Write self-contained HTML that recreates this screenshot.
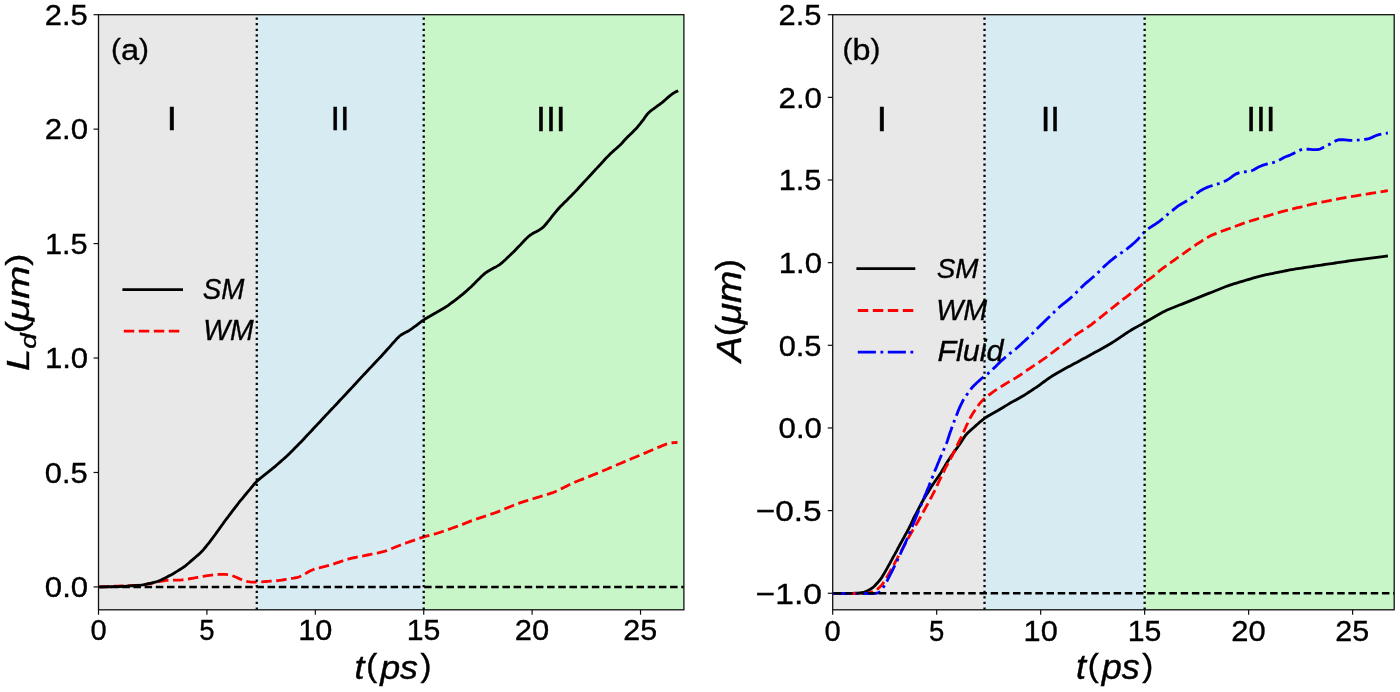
<!DOCTYPE html>
<html><head><meta charset="utf-8"><title>Figure</title>
<style>html,body{margin:0;padding:0;background:#fff;width:1400px;height:692px;overflow:hidden}svg{display:block;filter:blur(0.4px)}text{font-family:"Liberation Sans",sans-serif}</style>
</head><body>
<svg width="1400" height="692" viewBox="0 0 1400 692">
<rect width="1400" height="692" fill="#fff"/>
<rect x="98.5" y="14.7" width="158.27" height="595.10" fill="#e8e8e8"/>
<rect x="256.77" y="14.7" width="166.95" height="595.10" fill="#d6ebf2"/>
<rect x="423.72" y="14.7" width="260.18" height="595.10" fill="#c8f6c8"/>
<polyline points="98.5,586.90 100.9,586.80 102.6,586.73 104.5,586.66 106.5,586.58 108.5,586.49 110.5,586.41 112.5,586.33 114.5,586.25 116.5,586.17 118.5,586.09 120.5,586.01 122.5,585.92 124.5,585.84 126.5,585.75 128.5,585.66 130.5,585.58 132.5,585.49 134.5,585.41 136.5,585.32 138.5,585.23 140.5,585.11 142.4,584.95 144.4,584.71 146.4,584.38 148.3,583.98 150.3,583.55 152.3,583.12 154.2,582.69 156.2,582.27 158.1,581.87 160.1,581.48 162.0,581.09 164.0,580.74 166.0,580.45 168.0,580.25 169.9,580.15 171.9,580.11 173.9,580.10 175.9,580.10 177.9,580.08 179.9,580.04 181.9,579.92 183.9,579.72 185.9,579.44 187.9,579.11 189.8,578.76 191.8,578.40 193.8,578.05 195.7,577.69 197.7,577.34 199.7,576.98 201.6,576.63 203.6,576.28 205.6,575.93 207.5,575.59 209.5,575.29 211.5,575.04 213.5,574.84 215.5,574.67 217.5,574.53 219.5,574.41 221.5,574.33 223.5,574.32 225.4,574.41 227.4,574.62 229.4,574.93 231.3,575.40 233.2,576.02 235.0,576.77 236.8,577.58 238.7,578.39 240.5,579.19 242.3,579.95 244.2,580.65 246.1,581.24 248.0,581.66 250.0,581.92 252.0,582.08 254.0,582.18 255.9,582.21 257.9,582.16 259.9,582.03 261.9,581.85 263.9,581.65 265.9,581.47 267.9,581.32 269.9,581.19 271.9,581.06 273.9,580.93 275.9,580.76 277.9,580.57 279.8,580.34 281.8,580.07 283.8,579.76 285.8,579.44 287.7,579.11 289.7,578.78 291.7,578.45 293.7,578.11 295.6,577.74 297.6,577.31 299.4,576.73 301.3,575.97 303.0,575.07 304.8,574.09 306.5,573.08 308.2,572.07 309.9,571.10 311.7,570.21 313.5,569.46 315.4,568.83 317.3,568.29 319.3,567.79 321.2,567.30 323.2,566.81 325.1,566.32 327.0,565.82 329.0,565.31 330.9,564.77 332.8,564.20 334.7,563.58 336.6,562.95 338.5,562.30 340.4,561.65 342.3,561.00 344.2,560.36 346.1,559.74 348.0,559.15 349.9,558.63 351.9,558.17 353.8,557.75 355.8,557.36 357.7,556.96 359.7,556.57 361.6,556.18 363.6,555.79 365.6,555.40 367.5,555.01 369.5,554.62 371.5,554.22 373.4,553.83 375.4,553.44 377.3,553.04 379.3,552.63 381.2,552.20 383.2,551.71 385.1,551.13 387.0,550.46 388.8,549.75 390.7,549.01 392.5,548.26 394.4,547.51 396.2,546.76 398.1,546.02 400.0,545.28 401.8,544.55 403.7,543.85 405.6,543.16 407.5,542.50 409.3,541.85 411.2,541.19 413.1,540.54 415.0,539.89 416.9,539.24 418.8,538.59 420.7,537.95 422.6,537.33 424.5,536.74 426.4,536.18 428.4,535.65 430.3,535.12 432.2,534.60 434.1,534.07 436.1,533.54 438.0,532.99 439.9,532.41 441.8,531.78 443.7,531.13 445.6,530.47 447.5,529.80 449.4,529.13 451.2,528.46 453.1,527.79 455.0,527.11 456.9,526.43 458.8,525.74 460.6,525.03 462.5,524.31 464.4,523.58 466.2,522.85 468.1,522.12 469.9,521.39 471.8,520.68 473.7,519.99 475.6,519.33 477.5,518.69 479.4,518.05 481.3,517.42 483.2,516.79 485.1,516.16 487.0,515.53 488.9,514.90 490.8,514.27 492.6,513.64 494.5,512.99 496.4,512.32 498.3,511.61 500.1,510.86 502.0,510.10 503.8,509.33 505.7,508.55 507.5,507.78 509.4,507.00 511.2,506.23 513.1,505.46 514.9,504.70 516.8,503.97 518.6,503.29 520.5,502.65 522.4,502.04 524.4,501.44 526.3,500.85 528.2,500.26 530.1,499.67 532.0,499.08 533.9,498.49 535.8,497.90 537.7,497.31 539.6,496.73 541.6,496.14 543.5,495.56 545.4,494.98 547.3,494.40 549.2,493.81 551.1,493.20 553.0,492.55 554.9,491.82 556.7,491.02 558.5,490.16 560.3,489.28 562.1,488.39 563.9,487.50 565.6,486.61 567.4,485.72 569.2,484.83 571.0,483.96 572.8,483.12 574.7,482.31 576.5,481.54 578.4,480.79 580.2,480.05 582.1,479.31 583.9,478.57 585.8,477.83 587.7,477.09 589.5,476.35 591.4,475.61 593.2,474.87 595.1,474.13 596.9,473.37 598.8,472.61 600.6,471.83 602.5,471.05 604.3,470.26 606.2,469.48 608.0,468.69 609.8,467.90 611.7,467.12 613.5,466.33 615.3,465.55 617.2,464.77 619.0,463.99 620.9,463.21 622.7,462.43 624.6,461.66 626.4,460.88 628.2,460.11 630.1,459.33 631.9,458.56 633.8,457.78 635.6,457.01 637.5,456.23 639.3,455.45 641.1,454.67 643.0,453.89 644.8,453.11 646.7,452.33 648.5,451.54 650.4,450.76 652.2,449.98 654.0,449.20 655.9,448.41 657.7,447.63 659.6,446.85 661.4,446.08 663.2,445.31 665.1,444.56 667.0,443.90 668.9,443.36 670.8,443.00 672.7,442.77 674.5,442.61 675.9,442.51 677.5,442.40" fill="none" stroke="#ff0000" stroke-width="2.83" stroke-linejoin="round" stroke-dasharray="10.47,4.53"/><polyline points="98.5,586.90 100.9,586.87 102.6,586.84 104.5,586.82 106.5,586.79 108.5,586.76 110.5,586.73 112.5,586.70 114.5,586.67 116.5,586.64 118.5,586.59 120.5,586.51 122.5,586.41 124.5,586.29 126.5,586.16 128.5,586.02 130.5,585.89 132.5,585.75 134.5,585.61 136.5,585.47 138.5,585.32 140.4,585.12 142.4,584.86 144.4,584.53 146.3,584.14 148.3,583.72 150.3,583.30 152.2,582.87 154.1,582.41 156.1,581.88 157.9,581.26 159.8,580.51 161.6,579.67 163.4,578.80 165.2,577.91 167.0,577.00 168.7,576.09 170.5,575.15 172.3,574.17 174.0,573.16 175.7,572.14 177.4,571.11 179.1,570.08 180.8,569.02 182.5,567.93 184.1,566.77 185.7,565.55 187.2,564.28 188.8,562.98 190.3,561.68 191.8,560.38 193.3,559.08 194.8,557.78 196.3,556.47 197.9,555.17 199.4,553.84 200.8,552.48 202.2,551.06 203.5,549.57 204.8,548.03 206.1,546.48 207.3,544.92 208.6,543.35 209.8,541.79 211.0,540.22 212.2,538.63 213.4,537.02 214.6,535.41 215.8,533.78 216.9,532.15 218.1,530.53 219.3,528.90 220.4,527.27 221.6,525.64 222.8,524.02 223.9,522.40 225.1,520.78 226.3,519.17 227.5,517.58 228.7,515.98 229.9,514.39 231.1,512.79 232.3,511.20 233.5,509.61 234.8,508.02 236.0,506.42 237.2,504.83 238.4,503.25 239.6,501.68 240.9,500.12 242.2,498.58 243.4,497.04 244.7,495.50 246.0,493.97 247.3,492.44 248.6,490.90 249.9,489.37 251.1,487.84 252.4,486.30 253.7,484.78 255.0,483.27 256.4,481.80 257.8,480.40 259.3,479.07 260.8,477.80 262.4,476.56 263.9,475.33 265.5,474.09 267.1,472.86 268.7,471.63 270.2,470.39 271.8,469.14 273.3,467.87 274.9,466.58 276.4,465.27 277.9,463.96 279.4,462.65 280.9,461.34 282.4,460.02 283.9,458.70 285.4,457.37 286.9,456.02 288.3,454.63 289.8,453.23 291.2,451.82 292.6,450.41 294.0,449.00 295.4,447.58 296.8,446.17 298.2,444.75 299.6,443.32 301.0,441.89 302.4,440.44 303.8,438.98 305.1,437.52 306.5,436.06 307.9,434.60 309.2,433.13 310.6,431.67 312.0,430.21 313.3,428.75 314.7,427.28 316.1,425.82 317.4,424.36 318.8,422.90 320.2,421.44 321.5,419.98 322.9,418.52 324.3,417.06 325.6,415.60 327.0,414.14 328.4,412.68 329.7,411.23 331.1,409.77 332.5,408.31 333.9,406.86 335.2,405.40 336.6,403.95 338.0,402.49 339.3,401.03 340.7,399.58 342.1,398.12 343.4,396.66 344.8,395.21 346.2,393.75 347.5,392.28 348.9,390.82 350.3,389.35 351.6,387.88 353.0,386.41 354.3,384.94 355.7,383.47 357.0,382.00 358.4,380.53 359.8,379.06 361.1,377.59 362.5,376.13 363.8,374.67 365.2,373.21 366.6,371.75 368.0,370.30 369.3,368.84 370.7,367.38 372.1,365.93 373.4,364.47 374.8,363.01 376.2,361.56 377.6,360.10 378.9,358.64 380.3,357.19 381.7,355.72 383.0,354.26 384.4,352.78 385.7,351.29 387.0,349.80 388.4,348.30 389.7,346.81 391.0,345.31 392.3,343.82 393.7,342.33 395.0,340.83 396.3,339.35 397.7,337.89 399.1,336.52 400.6,335.28 402.3,334.20 404.0,333.24 405.8,332.33 407.5,331.39 409.3,330.39 410.9,329.30 412.6,328.15 414.2,326.96 415.8,325.77 417.4,324.57 419.0,323.37 420.6,322.17 422.2,320.99 423.8,319.84 425.5,318.74 427.2,317.70 428.9,316.69 430.7,315.71 432.4,314.72 434.1,313.74 435.9,312.76 437.6,311.78 439.4,310.80 441.1,309.82 442.8,308.82 444.6,307.78 446.2,306.70 447.9,305.56 449.5,304.38 451.1,303.18 452.7,301.99 454.3,300.79 455.9,299.58 457.5,298.38 459.1,297.17 460.6,295.93 462.2,294.67 463.7,293.38 465.2,292.07 466.7,290.75 468.2,289.42 469.7,288.07 471.2,286.70 472.6,285.30 474.0,283.89 475.4,282.48 476.8,281.07 478.2,279.65 479.7,278.24 481.1,276.83 482.5,275.44 484.0,274.11 485.5,272.88 487.2,271.76 488.9,270.74 490.6,269.76 492.4,268.80 494.1,267.85 495.9,266.88 497.6,265.89 499.3,264.83 500.9,263.66 502.4,262.39 503.9,261.05 505.4,259.68 506.8,258.30 508.2,256.92 509.7,255.54 511.1,254.16 512.6,252.77 514.0,251.38 515.4,249.97 516.8,248.54 518.2,247.09 519.6,245.64 521.0,244.18 522.3,242.72 523.7,241.27 525.1,239.81 526.5,238.38 527.9,237.00 529.4,235.73 531.0,234.59 532.7,233.56 534.5,232.59 536.2,231.64 538.0,230.68 539.7,229.69 541.3,228.61 542.9,227.40 544.3,226.02 545.6,224.53 546.9,222.99 548.1,221.43 549.4,219.87 550.6,218.30 551.8,216.74 553.1,215.17 554.3,213.61 555.6,212.05 556.9,210.51 558.2,209.01 559.5,207.54 560.9,206.10 562.3,204.68 563.7,203.26 565.1,201.85 566.6,200.44 568.0,199.02 569.4,197.61 570.8,196.19 572.2,194.76 573.6,193.32 575.0,191.87 576.3,190.41 577.7,188.94 579.0,187.47 580.4,186.00 581.8,184.53 583.1,183.06 584.5,181.60 585.8,180.13 587.2,178.66 588.5,177.19 589.9,175.72 591.3,174.25 592.6,172.78 594.0,171.31 595.3,169.84 596.7,168.37 598.0,166.91 599.4,165.44 600.8,163.97 602.1,162.50 603.5,161.03 604.8,159.56 606.2,158.10 607.6,156.64 609.0,155.21 610.4,153.81 611.8,152.45 613.3,151.11 614.8,149.78 616.3,148.45 617.8,147.12 619.3,145.78 620.7,144.39 622.1,142.95 623.4,141.46 624.7,139.96 626.1,138.49 627.5,137.07 628.9,135.67 630.4,134.29 631.8,132.90 633.2,131.51 634.6,130.10 636.0,128.66 637.4,127.17 638.6,125.64 639.9,124.08 641.1,122.52 642.4,120.95 643.6,119.35 644.7,117.72 645.8,116.09 647.0,114.52 648.4,113.06 649.8,111.73 651.4,110.48 652.9,109.27 654.5,108.07 656.2,106.90 657.8,105.73 659.4,104.56 661.0,103.37 662.6,102.13 664.1,100.84 665.6,99.51 667.1,98.17 668.6,96.85 670.1,95.58 671.7,94.38 673.3,93.29 674.9,92.35 676.3,91.61 678.2,90.70" fill="none" stroke="#000" stroke-width="2.83" stroke-linejoin="round" />
<line x1="256.77" y1="14.7" x2="256.77" y2="609.8" stroke="#000" stroke-width="2.25" stroke-dasharray="2.25,3.37" stroke-dashoffset="2.93"/>
<line x1="423.72" y1="14.7" x2="423.72" y2="609.8" stroke="#000" stroke-width="2.25" stroke-dasharray="2.25,3.37" stroke-dashoffset="2.93"/>
<line x1="98.5" y1="586.91" x2="683.9" y2="586.91" stroke="#000" stroke-width="2.5" stroke-dasharray="7.5,3.68" stroke-dashoffset="9.78"/>
<rect x="98.5" y="14.7" width="585.40" height="595.10" fill="none" stroke="#111" stroke-width="1.3"/>
<line x1="98.50" y1="609.8" x2="98.50" y2="614.75" stroke="#111" stroke-width="1.2"/>
<line x1="206.91" y1="609.8" x2="206.91" y2="614.75" stroke="#111" stroke-width="1.2"/>
<line x1="315.31" y1="609.8" x2="315.31" y2="614.75" stroke="#111" stroke-width="1.2"/>
<line x1="423.72" y1="609.8" x2="423.72" y2="614.75" stroke="#111" stroke-width="1.2"/>
<line x1="532.13" y1="609.8" x2="532.13" y2="614.75" stroke="#111" stroke-width="1.2"/>
<line x1="640.54" y1="609.8" x2="640.54" y2="614.75" stroke="#111" stroke-width="1.2"/>
<line x1="93.55" y1="586.91" x2="98.5" y2="586.91" stroke="#111" stroke-width="1.2"/>
<line x1="93.55" y1="472.47" x2="98.5" y2="472.47" stroke="#111" stroke-width="1.2"/>
<line x1="93.55" y1="358.03" x2="98.5" y2="358.03" stroke="#111" stroke-width="1.2"/>
<line x1="93.55" y1="243.58" x2="98.5" y2="243.58" stroke="#111" stroke-width="1.2"/>
<line x1="93.55" y1="129.14" x2="98.5" y2="129.14" stroke="#111" stroke-width="1.2"/>
<line x1="93.55" y1="14.70" x2="98.5" y2="14.70" stroke="#111" stroke-width="1.2"/>
<line x1="122.4" y1="289.6" x2="183" y2="289.6" stroke="#000" stroke-width="2.83"/><line x1="123.8" y1="331.1" x2="181.6" y2="331.1" stroke="#ff0000" stroke-width="2.83" stroke-dasharray="10.47,4.53"/>
<rect x="832.7" y="14.7" width="151.81" height="595.10" fill="#e8e8e8"/>
<rect x="984.51" y="14.7" width="160.13" height="595.10" fill="#d6ebf2"/>
<rect x="1144.64" y="14.7" width="249.56" height="595.10" fill="#c8f6c8"/>
<polyline points="832.7,593.40 835.1,593.41 836.8,593.42 838.7,593.43 840.7,593.45 842.7,593.46 844.7,593.47 846.7,593.47 848.7,593.45 850.7,593.40 852.7,593.33 854.7,593.22 856.7,593.11 858.7,592.98 860.7,592.80 862.6,592.50 864.5,592.01 866.3,591.32 868.1,590.48 869.9,589.53 871.5,588.48 873.1,587.27 874.6,585.94 875.9,584.51 877.3,583.05 878.6,581.56 879.9,580.03 881.1,578.45 882.2,576.79 883.2,575.09 884.2,573.35 885.2,571.61 886.2,569.86 887.2,568.11 888.1,566.37 889.1,564.62 890.1,562.87 891.0,561.11 892.0,559.36 892.9,557.60 893.9,555.85 894.9,554.09 895.8,552.33 896.8,550.58 897.7,548.82 898.7,547.06 899.6,545.31 900.6,543.55 901.6,541.80 902.5,540.04 903.5,538.29 904.4,536.53 905.4,534.78 906.4,533.03 907.3,531.27 908.3,529.51 909.2,527.75 910.1,525.97 911.0,524.16 911.8,522.34 912.6,520.52 913.4,518.71 914.3,516.92 915.2,515.14 916.2,513.37 917.1,511.59 918.0,509.82 918.9,508.05 919.9,506.28 920.8,504.50 921.7,502.74 922.7,500.98 923.7,499.25 924.7,497.53 925.8,495.82 926.8,494.12 927.9,492.42 928.9,490.72 930.0,489.03 931.0,487.33 932.1,485.65 933.2,483.98 934.3,482.33 935.5,480.69 936.6,479.05 937.8,477.40 938.9,475.75 940.0,474.09 941.1,472.41 942.1,470.70 943.1,468.98 944.2,467.26 945.2,465.54 946.2,463.81 947.2,462.10 948.3,460.40 949.4,458.72 950.5,457.07 951.6,455.43 952.8,453.80 953.9,452.17 955.1,450.54 956.3,448.92 957.5,447.31 958.6,445.71 959.8,444.09 960.9,442.44 962.0,440.74 963.0,439.03 964.1,437.36 965.2,435.77 966.5,434.26 967.9,432.82 969.3,431.44 970.8,430.10 972.3,428.77 973.8,427.46 975.3,426.13 976.8,424.81 978.3,423.49 979.8,422.18 981.4,420.89 982.9,419.64 984.5,418.43 986.1,417.29 987.8,416.21 989.5,415.18 991.3,414.19 993.0,413.23 994.8,412.28 996.5,411.31 998.3,410.30 1000.0,409.28 1001.7,408.24 1003.4,407.19 1005.1,406.15 1006.8,405.11 1008.5,404.09 1010.2,403.08 1012.0,402.10 1013.7,401.12 1015.5,400.15 1017.2,399.17 1019.0,398.20 1020.7,397.22 1022.4,396.22 1024.2,395.19 1025.9,394.13 1027.5,393.05 1029.2,391.96 1030.9,390.88 1032.6,389.79 1034.2,388.70 1035.9,387.59 1037.6,386.47 1039.2,385.31 1040.8,384.13 1042.4,382.94 1044.0,381.75 1045.6,380.56 1047.2,379.38 1048.9,378.23 1050.5,377.12 1052.2,376.05 1053.9,375.00 1055.6,373.96 1057.3,372.93 1059.1,371.91 1060.8,370.92 1062.6,369.95 1064.3,369.00 1066.1,368.05 1067.8,367.10 1069.6,366.16 1071.4,365.22 1073.1,364.27 1074.9,363.33 1076.7,362.39 1078.4,361.44 1080.2,360.50 1081.9,359.55 1083.7,358.60 1085.5,357.64 1087.2,356.69 1089.0,355.72 1090.7,354.76 1092.5,353.80 1094.2,352.83 1096.0,351.87 1097.7,350.90 1099.5,349.94 1101.2,348.98 1103.0,348.01 1104.7,347.05 1106.5,346.08 1108.2,345.09 1109.9,344.07 1111.6,343.01 1113.3,341.92 1115.0,340.81 1116.6,339.70 1118.3,338.58 1120.0,337.46 1121.6,336.35 1123.3,335.23 1124.9,334.11 1126.6,333.00 1128.3,331.91 1130.0,330.85 1131.7,329.83 1133.4,328.83 1135.2,327.84 1136.9,326.86 1138.6,325.88 1140.4,324.90 1142.1,323.92 1143.9,322.94 1145.6,321.95 1147.3,320.97 1149.1,319.98 1150.8,318.99 1152.6,318.00 1154.3,317.01 1156.0,316.02 1157.8,315.04 1159.5,314.05 1161.3,313.07 1163.0,312.10 1164.8,311.18 1166.6,310.33 1168.4,309.53 1170.3,308.77 1172.1,308.02 1174.0,307.28 1175.8,306.53 1177.7,305.79 1179.5,305.05 1181.4,304.31 1183.3,303.57 1185.1,302.83 1187.0,302.08 1188.8,301.34 1190.7,300.60 1192.5,299.86 1194.4,299.12 1196.3,298.37 1198.1,297.63 1200.0,296.89 1201.8,296.15 1203.7,295.41 1205.5,294.67 1207.4,293.92 1209.3,293.18 1211.1,292.44 1213.0,291.70 1214.8,290.96 1216.7,290.22 1218.6,289.47 1220.4,288.73 1222.3,287.99 1224.1,287.25 1226.0,286.52 1227.9,285.82 1229.7,285.16 1231.6,284.54 1233.6,283.95 1235.5,283.37 1237.4,282.80 1239.3,282.22 1241.2,281.65 1243.1,281.08 1245.0,280.51 1247.0,279.93 1248.9,279.36 1250.8,278.79 1252.7,278.22 1254.6,277.65 1256.5,277.08 1258.5,276.53 1260.4,276.01 1262.3,275.54 1264.3,275.11 1266.3,274.71 1268.2,274.31 1270.2,273.91 1272.1,273.52 1274.1,273.12 1276.1,272.73 1278.0,272.34 1280.0,271.94 1281.9,271.55 1283.9,271.15 1285.9,270.76 1287.8,270.37 1289.8,269.98 1291.7,269.61 1293.7,269.27 1295.7,268.95 1297.7,268.64 1299.6,268.34 1301.6,268.04 1303.6,267.74 1305.6,267.44 1307.6,267.14 1309.5,266.84 1311.5,266.55 1313.5,266.25 1315.5,265.95 1317.4,265.65 1319.4,265.35 1321.4,265.05 1323.4,264.76 1325.4,264.46 1327.3,264.17 1329.3,263.87 1331.3,263.58 1333.3,263.29 1335.2,262.99 1337.2,262.70 1339.2,262.41 1341.2,262.11 1343.2,261.82 1345.1,261.53 1347.1,261.23 1349.1,260.94 1351.1,260.65 1353.0,260.36 1355.0,260.08 1357.0,259.81 1359.0,259.55 1361.0,259.30 1363.0,259.06 1364.9,258.81 1366.9,258.57 1368.9,258.33 1370.9,258.08 1372.9,257.84 1374.9,257.60 1376.9,257.35 1378.8,257.11 1380.8,256.87 1382.8,256.63 1384.6,256.41 1386.1,256.22 1387.9,256.00" fill="none" stroke="#000" stroke-width="2.83" stroke-linejoin="round" /><polyline points="832.7,593.40 835.1,593.41 836.8,593.41 838.7,593.42 840.7,593.42 842.7,593.43 844.7,593.43 846.7,593.44 848.7,593.45 850.7,593.45 852.7,593.46 854.7,593.46 856.7,593.47 858.7,593.47 860.7,593.48 862.7,593.46 864.7,593.40 866.7,593.23 868.6,592.92 870.5,592.46 872.4,591.87 874.3,591.15 876.0,590.23 877.5,589.10 879.0,587.80 880.4,586.39 881.8,584.92 883.0,583.36 884.1,581.73 885.2,580.04 886.2,578.32 887.2,576.59 888.2,574.86 889.2,573.12 890.2,571.38 891.1,569.63 892.1,567.87 893.0,566.12 894.0,564.36 895.0,562.61 895.9,560.85 896.9,559.09 897.8,557.34 898.8,555.58 899.7,553.82 900.7,552.07 901.7,550.31 902.6,548.55 903.6,546.80 904.5,545.04 905.5,543.28 906.4,541.53 907.4,539.77 908.4,538.02 909.3,536.26 910.3,534.52 911.3,532.78 912.3,531.05 913.3,529.33 914.3,527.61 915.4,525.89 916.4,524.18 917.4,522.46 918.4,520.73 919.4,519.00 920.4,517.26 921.4,515.51 922.3,513.76 923.3,512.00 924.2,510.25 925.2,508.49 926.1,506.73 927.1,504.97 928.1,503.22 929.0,501.46 930.0,499.70 930.9,497.94 931.9,496.18 932.8,494.41 933.7,492.63 934.6,490.83 935.4,489.03 936.3,487.22 937.1,485.41 938.0,483.59 938.8,481.78 939.7,479.97 940.5,478.17 941.4,476.37 942.3,474.57 943.2,472.77 944.1,470.98 944.9,469.19 945.8,467.40 946.8,465.63 947.7,463.87 948.7,462.11 949.6,460.36 950.6,458.61 951.6,456.85 952.5,455.08 953.4,453.30 954.3,451.50 955.1,449.68 955.9,447.87 956.8,446.06 957.7,444.27 958.6,442.49 959.5,440.72 960.4,438.94 961.3,437.14 962.1,435.33 962.9,433.50 963.8,431.67 964.6,429.85 965.4,428.02 966.2,426.20 967.1,424.38 967.9,422.57 968.8,420.77 969.6,418.97 970.6,417.21 971.6,415.48 972.6,413.79 973.7,412.13 974.8,410.48 976.0,408.82 977.1,407.17 978.2,405.53 979.4,403.93 980.7,402.38 982.0,400.89 983.4,399.48 984.9,398.17 986.5,396.92 988.0,395.71 989.6,394.50 991.2,393.30 992.8,392.11 994.5,390.95 996.1,389.82 997.8,388.73 999.5,387.65 1001.2,386.58 1002.9,385.52 1004.6,384.47 1006.3,383.42 1008.0,382.39 1009.7,381.37 1011.4,380.37 1013.2,379.38 1014.9,378.39 1016.6,377.38 1018.3,376.32 1020.0,375.22 1021.6,374.08 1023.2,372.91 1024.9,371.75 1026.5,370.59 1028.1,369.46 1029.8,368.34 1031.5,367.24 1033.1,366.14 1034.8,365.04 1036.5,363.94 1038.1,362.82 1039.8,361.70 1041.4,360.56 1043.1,359.42 1044.7,358.28 1046.4,357.12 1048.0,355.93 1049.6,354.73 1051.1,353.50 1052.7,352.27 1054.3,351.05 1055.9,349.86 1057.5,348.69 1059.2,347.55 1060.8,346.43 1062.5,345.30 1064.1,344.15 1065.7,342.97 1067.3,341.74 1068.9,340.49 1070.4,339.23 1072.0,337.96 1073.5,336.71 1075.1,335.48 1076.7,334.30 1078.4,333.18 1080.0,332.09 1081.7,331.03 1083.4,329.97 1085.1,328.90 1086.8,327.81 1088.4,326.70 1090.1,325.53 1091.7,324.33 1093.2,323.12 1094.8,321.89 1096.4,320.67 1098.0,319.44 1099.6,318.20 1101.1,316.95 1102.7,315.70 1104.2,314.44 1105.8,313.19 1107.3,311.93 1108.9,310.67 1110.5,309.42 1112.0,308.17 1113.6,306.93 1115.2,305.68 1116.7,304.44 1118.3,303.19 1119.9,301.95 1121.4,300.71 1123.0,299.47 1124.6,298.24 1126.2,297.02 1127.7,295.79 1129.3,294.56 1130.9,293.34 1132.5,292.10 1134.0,290.86 1135.6,289.60 1137.1,288.34 1138.7,287.07 1140.2,285.80 1141.8,284.55 1143.4,283.31 1145.0,282.12 1146.6,280.97 1148.2,279.84 1149.9,278.72 1151.5,277.58 1153.1,276.39 1154.7,275.13 1156.2,273.81 1157.7,272.47 1159.1,271.15 1160.7,269.87 1162.3,268.65 1163.9,267.47 1165.5,266.31 1167.1,265.15 1168.8,263.99 1170.4,262.83 1172.0,261.68 1173.7,260.52 1175.3,259.36 1176.9,258.21 1178.5,257.05 1180.2,255.89 1181.8,254.74 1183.4,253.58 1185.1,252.42 1186.7,251.26 1188.3,250.10 1190.0,248.94 1191.6,247.78 1193.2,246.63 1194.9,245.50 1196.5,244.38 1198.2,243.28 1199.9,242.20 1201.6,241.12 1203.2,240.04 1204.9,238.97 1206.6,237.92 1208.4,236.91 1210.1,235.99 1211.9,235.15 1213.8,234.37 1215.6,233.62 1217.5,232.88 1219.3,232.15 1221.2,231.44 1223.1,230.74 1225.0,230.07 1226.8,229.40 1228.7,228.73 1230.6,228.05 1232.5,227.37 1234.4,226.66 1236.2,225.96 1238.1,225.25 1240.0,224.55 1241.9,223.87 1243.8,223.21 1245.6,222.56 1247.5,221.93 1249.4,221.33 1251.4,220.74 1253.3,220.16 1255.2,219.58 1257.1,219.01 1259.0,218.44 1260.9,217.87 1262.9,217.29 1264.8,216.72 1266.7,216.15 1268.6,215.58 1270.5,215.00 1272.4,214.43 1274.3,213.86 1276.3,213.29 1278.2,212.73 1280.1,212.19 1282.0,211.68 1284.0,211.18 1285.9,210.68 1287.9,210.19 1289.8,209.70 1291.7,209.21 1293.7,208.72 1295.6,208.23 1297.6,207.74 1299.5,207.26 1301.4,206.77 1303.4,206.28 1305.3,205.79 1307.3,205.30 1309.2,204.83 1311.1,204.37 1313.1,203.94 1315.0,203.53 1317.0,203.13 1319.0,202.74 1320.9,202.35 1322.9,201.96 1324.9,201.57 1326.8,201.19 1328.8,200.80 1330.7,200.41 1332.7,200.02 1334.7,199.63 1336.6,199.24 1338.6,198.86 1340.6,198.47 1342.5,198.10 1344.5,197.75 1346.5,197.41 1348.4,197.08 1350.4,196.75 1352.4,196.43 1354.3,196.10 1356.3,195.78 1358.3,195.46 1360.3,195.13 1362.2,194.81 1364.2,194.49 1366.2,194.16 1368.2,193.84 1370.1,193.51 1372.1,193.19 1374.1,192.87 1376.1,192.54 1378.0,192.22 1380.0,191.90 1382.0,191.58 1383.8,191.27 1385.5,191.00 1387.9,190.60" fill="none" stroke="#ff0000" stroke-width="2.83" stroke-linejoin="round" stroke-dasharray="10.47,4.53"/><polyline points="832.7,593.40 835.1,593.41 836.8,593.41 838.7,593.41 840.7,593.42 842.7,593.42 844.7,593.43 846.7,593.43 848.7,593.43 850.7,593.44 852.7,593.44 854.7,593.45 856.7,593.45 858.7,593.46 860.7,593.46 862.7,593.46 864.7,593.47 866.7,593.47 868.7,593.48 870.7,593.48 872.7,593.48 874.7,593.43 876.6,593.25 878.3,592.78 879.8,591.89 881.1,590.59 882.2,589.03 883.3,587.36 884.3,585.66 885.3,583.94 886.3,582.21 887.3,580.45 888.2,578.68 889.1,576.89 890.0,575.10 890.9,573.32 891.8,571.53 892.7,569.74 893.6,567.95 894.5,566.16 895.4,564.37 896.2,562.57 897.1,560.77 898.0,558.96 898.8,557.15 899.6,555.33 900.5,553.51 901.3,551.70 902.1,549.88 903.0,548.06 903.8,546.25 904.7,544.43 905.5,542.61 906.3,540.79 907.1,538.96 907.9,537.12 908.7,535.27 909.4,533.42 910.2,531.57 910.9,529.72 911.7,527.86 912.4,526.01 913.2,524.15 913.9,522.30 914.7,520.45 915.4,518.60 916.2,516.74 916.9,514.89 917.7,513.04 918.5,511.19 919.2,509.35 920.0,507.50 920.8,505.66 921.6,503.81 922.3,501.96 923.1,500.12 923.9,498.27 924.6,496.43 925.4,494.58 926.2,492.74 926.9,490.89 927.7,489.04 928.5,487.19 929.2,485.34 929.9,483.48 930.7,481.61 931.4,479.75 932.1,477.88 932.8,476.02 933.6,474.15 934.3,472.29 935.0,470.44 935.8,468.59 936.6,466.74 937.3,464.89 938.1,463.05 938.9,461.20 939.6,459.36 940.4,457.51 941.2,455.67 942.0,453.83 942.8,451.99 943.6,450.15 944.3,448.32 945.1,446.48 945.9,444.63 946.7,442.78 947.4,440.91 948.0,439.02 948.6,437.12 949.2,435.21 949.8,433.31 950.5,431.42 951.2,429.53 951.8,427.66 952.5,425.78 953.2,423.91 953.9,422.03 954.6,420.16 955.3,418.29 956.1,416.42 956.8,414.55 957.5,412.69 958.2,410.83 959.0,408.99 959.8,407.15 960.6,405.33 961.5,403.52 962.4,401.74 963.3,399.99 964.4,398.30 965.5,396.63 966.6,394.99 967.8,393.35 968.9,391.72 970.1,390.11 971.3,388.53 972.6,387.01 974.0,385.57 975.4,384.18 976.8,382.80 978.3,381.44 979.8,380.10 981.3,378.78 982.8,377.50 984.4,376.27 986.0,375.05 987.6,373.84 989.1,372.59 990.6,371.30 992.1,369.94 993.5,368.55 995.0,367.14 996.4,365.73 997.8,364.32 999.2,362.91 1000.6,361.52 1002.1,360.16 1003.6,358.82 1005.1,357.51 1006.6,356.21 1008.2,354.92 1009.7,353.65 1011.3,352.41 1012.8,351.21 1014.4,350.01 1016.0,348.78 1017.5,347.48 1019.0,346.14 1020.5,344.79 1021.9,343.42 1023.4,342.06 1024.9,340.70 1026.3,339.33 1027.8,337.97 1029.2,336.61 1030.7,335.23 1032.1,333.83 1033.5,332.41 1034.9,330.97 1036.3,329.52 1037.7,328.09 1039.1,326.69 1040.5,325.29 1042.0,323.90 1043.4,322.51 1044.9,321.12 1046.3,319.73 1047.7,318.34 1049.2,316.95 1050.6,315.56 1052.0,314.17 1053.5,312.77 1054.9,311.36 1056.3,309.96 1057.8,308.58 1059.2,307.25 1060.8,305.96 1062.3,304.70 1063.9,303.45 1065.5,302.20 1067.0,300.95 1068.6,299.69 1070.1,298.39 1071.6,297.06 1073.0,295.68 1074.4,294.28 1075.9,292.88 1077.3,291.47 1078.7,290.06 1080.1,288.65 1081.5,287.25 1083.0,285.85 1084.4,284.49 1085.9,283.15 1087.4,281.85 1089.0,280.57 1090.5,279.29 1092.0,278.01 1093.6,276.71 1095.1,275.38 1096.5,274.02 1098.0,272.63 1099.4,271.22 1100.8,269.81 1102.2,268.40 1103.6,267.00 1105.1,265.62 1106.6,264.28 1108.1,262.97 1109.6,261.68 1111.1,260.39 1112.7,259.12 1114.2,257.86 1115.8,256.64 1117.4,255.46 1119.1,254.32 1120.7,253.20 1122.4,252.09 1124.0,250.96 1125.7,249.81 1127.3,248.61 1128.8,247.36 1130.4,246.09 1131.9,244.81 1133.4,243.52 1134.9,242.20 1136.4,240.83 1137.8,239.40 1139.1,237.91 1140.4,236.41 1141.7,234.92 1143.1,233.47 1144.5,232.06 1146.0,230.70 1147.5,229.41 1149.1,228.20 1150.7,227.08 1152.4,226.00 1154.1,224.93 1155.8,223.84 1157.4,222.73 1159.1,221.58 1160.6,220.38 1162.2,219.12 1163.7,217.81 1165.2,216.49 1166.7,215.19 1168.3,213.92 1169.8,212.67 1171.4,211.42 1172.9,210.15 1174.4,208.86 1176.0,207.58 1177.5,206.35 1179.2,205.23 1180.9,204.21 1182.6,203.25 1184.4,202.30 1186.1,201.32 1187.8,200.29 1189.5,199.21 1191.1,198.04 1192.7,196.80 1194.2,195.51 1195.7,194.22 1197.3,192.98 1198.9,191.80 1200.5,190.69 1202.2,189.67 1204.0,188.76 1205.8,187.93 1207.7,187.18 1209.5,186.49 1211.4,185.86 1213.4,185.27 1215.3,184.69 1217.2,184.12 1219.1,183.52 1221.0,182.89 1222.8,182.17 1224.6,181.34 1226.4,180.41 1228.1,179.40 1229.8,178.32 1231.4,177.16 1233.0,175.97 1234.6,174.83 1236.3,173.85 1238.1,173.11 1240.0,172.57 1241.9,172.18 1243.9,171.91 1245.9,171.72 1247.8,171.54 1249.8,171.25 1251.6,170.76 1253.4,170.00 1255.1,169.06 1256.8,168.05 1258.6,167.09 1260.4,166.22 1262.2,165.46 1264.1,164.80 1266.0,164.25 1267.9,163.79 1269.9,163.35 1271.8,162.89 1273.7,162.38 1275.6,161.79 1277.4,161.04 1279.2,160.15 1280.9,159.16 1282.7,158.19 1284.4,157.30 1286.3,156.52 1288.1,155.81 1290.0,155.08 1291.8,154.28 1293.6,153.38 1295.3,152.42 1297.1,151.47 1298.8,150.58 1300.7,149.84 1302.5,149.32 1304.4,149.08 1306.4,149.09 1308.4,149.22 1310.3,149.40 1312.3,149.55 1314.3,149.66 1316.3,149.68 1318.2,149.50 1320.0,149.03 1321.8,148.27 1323.5,147.34 1325.3,146.39 1327.0,145.50 1328.8,144.64 1330.6,143.76 1332.3,142.78 1334.0,141.75 1335.7,140.81 1337.5,140.11 1339.3,139.72 1341.3,139.62 1343.2,139.74 1345.2,139.94 1347.2,140.14 1349.2,140.26 1351.2,140.31 1353.2,140.30 1355.2,140.22 1357.2,140.09 1359.2,139.94 1361.1,139.75 1363.1,139.55 1365.1,139.32 1367.1,139.02 1369.0,138.59 1370.8,137.95 1372.6,137.15 1374.4,136.29 1376.2,135.52 1378.1,134.87 1380.0,134.34 1381.9,133.91 1383.8,133.58 1385.5,133.33 1386.7,133.15 1387.9,133.00" fill="none" stroke="#0000ff" stroke-width="2.83" stroke-linejoin="round" stroke-dasharray="18.1,4.53,2.83,4.53"/>
<line x1="984.51" y1="14.7" x2="984.51" y2="609.8" stroke="#000" stroke-width="2.25" stroke-dasharray="2.25,3.37" stroke-dashoffset="2.93"/>
<line x1="1144.64" y1="14.7" x2="1144.64" y2="609.8" stroke="#000" stroke-width="2.25" stroke-dasharray="2.25,3.37" stroke-dashoffset="2.93"/>
<line x1="832.7" y1="593.27" x2="1394.2" y2="593.27" stroke="#000" stroke-width="2.5" stroke-dasharray="7.5,3.68" stroke-dashoffset="9.78"/>
<rect x="832.7" y="14.7" width="561.50" height="595.10" fill="none" stroke="#111" stroke-width="1.3"/>
<line x1="832.70" y1="609.8" x2="832.70" y2="614.75" stroke="#111" stroke-width="1.2"/>
<line x1="936.68" y1="609.8" x2="936.68" y2="614.75" stroke="#111" stroke-width="1.2"/>
<line x1="1040.66" y1="609.8" x2="1040.66" y2="614.75" stroke="#111" stroke-width="1.2"/>
<line x1="1144.64" y1="609.8" x2="1144.64" y2="614.75" stroke="#111" stroke-width="1.2"/>
<line x1="1248.63" y1="609.8" x2="1248.63" y2="614.75" stroke="#111" stroke-width="1.2"/>
<line x1="1352.61" y1="609.8" x2="1352.61" y2="614.75" stroke="#111" stroke-width="1.2"/>
<line x1="827.75" y1="593.27" x2="832.7" y2="593.27" stroke="#111" stroke-width="1.2"/>
<line x1="827.75" y1="510.62" x2="832.7" y2="510.62" stroke="#111" stroke-width="1.2"/>
<line x1="827.75" y1="427.96" x2="832.7" y2="427.96" stroke="#111" stroke-width="1.2"/>
<line x1="827.75" y1="345.31" x2="832.7" y2="345.31" stroke="#111" stroke-width="1.2"/>
<line x1="827.75" y1="262.66" x2="832.7" y2="262.66" stroke="#111" stroke-width="1.2"/>
<line x1="827.75" y1="180.01" x2="832.7" y2="180.01" stroke="#111" stroke-width="1.2"/>
<line x1="827.75" y1="97.35" x2="832.7" y2="97.35" stroke="#111" stroke-width="1.2"/>
<line x1="827.75" y1="14.70" x2="832.7" y2="14.70" stroke="#111" stroke-width="1.2"/>
<line x1="856.4" y1="268.7" x2="915.3" y2="268.7" stroke="#000" stroke-width="2.83"/><line x1="857.8" y1="310.5" x2="913.9" y2="310.5" stroke="#ff0000" stroke-width="2.83" stroke-dasharray="10.47,4.53"/><line x1="857.8" y1="352.1" x2="913.9" y2="352.1" stroke="#0000ff" stroke-width="2.83" stroke-dasharray="18.1,4.53,2.83,4.53"/>
<g fill="#000">
<g transform="matrix(1.0393,0,0,0.9910,44.82,597.22)"><text x="0" y="0" font-family="Liberation Sans, sans-serif" stroke="#000" stroke-width="0.35" font-size="30">0.0</text></g>
<g transform="matrix(1.0270,0,0,0.9910,44.83,482.77)"><text x="0" y="0" font-family="Liberation Sans, sans-serif" stroke="#000" stroke-width="0.35" font-size="30">0.5</text></g>
<g transform="matrix(1.0367,0,0,0.9910,44.93,368.33)"><text x="0" y="0" font-family="Liberation Sans, sans-serif" stroke="#000" stroke-width="0.35" font-size="30">1.0</text></g>
<g transform="matrix(1.0240,0,0,0.9874,44.95,253.89)"><text x="0" y="0" font-family="Liberation Sans, sans-serif" stroke="#000" stroke-width="0.35" font-size="30">1.5</text></g>
<g transform="matrix(1.0420,0,0,0.9910,44.71,139.45)"><text x="0" y="0" font-family="Liberation Sans, sans-serif" stroke="#000" stroke-width="0.35" font-size="30">2.0</text></g>
<g transform="matrix(1.0295,0,0,0.9910,44.73,25.01)"><text x="0" y="0" font-family="Liberation Sans, sans-serif" stroke="#000" stroke-width="0.35" font-size="30">2.5</text></g>
<g transform="matrix(1.1220,0,0,0.9910,755.62,603.57)"><text x="0" y="0" font-family="Liberation Sans, sans-serif" stroke="#000" stroke-width="0.35" font-size="30">−1.0</text></g>
<g transform="matrix(1.1135,0,0,0.9910,755.63,520.92)"><text x="0" y="0" font-family="Liberation Sans, sans-serif" stroke="#000" stroke-width="0.35" font-size="30">−0.5</text></g>
<g transform="matrix(1.0393,0,0,0.9910,778.62,438.27)"><text x="0" y="0" font-family="Liberation Sans, sans-serif" stroke="#000" stroke-width="0.35" font-size="30">0.0</text></g>
<g transform="matrix(1.0270,0,0,0.9910,778.63,355.62)"><text x="0" y="0" font-family="Liberation Sans, sans-serif" stroke="#000" stroke-width="0.35" font-size="30">0.5</text></g>
<g transform="matrix(1.0367,0,0,0.9910,778.73,272.96)"><text x="0" y="0" font-family="Liberation Sans, sans-serif" stroke="#000" stroke-width="0.35" font-size="30">1.0</text></g>
<g transform="matrix(1.0240,0,0,0.9874,778.75,190.31)"><text x="0" y="0" font-family="Liberation Sans, sans-serif" stroke="#000" stroke-width="0.35" font-size="30">1.5</text></g>
<g transform="matrix(1.0420,0,0,0.9910,778.51,107.66)"><text x="0" y="0" font-family="Liberation Sans, sans-serif" stroke="#000" stroke-width="0.35" font-size="30">2.0</text></g>
<g transform="matrix(1.0295,0,0,0.9910,778.53,25.01)"><text x="0" y="0" font-family="Liberation Sans, sans-serif" stroke="#000" stroke-width="0.35" font-size="30">2.5</text></g>
<g transform="matrix(0.9701,0,0,0.9910,90.39,640.41)"><text x="0" y="0" font-family="Liberation Sans, sans-serif" stroke="#000" stroke-width="0.35" font-size="30">0</text></g>
<g transform="matrix(0.9701,0,0,0.9910,824.59,640.71)"><text x="0" y="0" font-family="Liberation Sans, sans-serif" stroke="#000" stroke-width="0.35" font-size="30">0</text></g>
<g transform="matrix(0.9143,0,0,0.9874,199.17,640.41)"><text x="0" y="0" font-family="Liberation Sans, sans-serif" stroke="#000" stroke-width="0.35" font-size="30">5</text></g>
<g transform="matrix(0.9143,0,0,0.9874,928.95,640.71)"><text x="0" y="0" font-family="Liberation Sans, sans-serif" stroke="#000" stroke-width="0.35" font-size="30">5</text></g>
<g transform="matrix(1.0238,0,0,0.9910,298.27,640.41)"><text x="0" y="0" font-family="Liberation Sans, sans-serif" stroke="#000" stroke-width="0.35" font-size="30">10</text></g>
<g transform="matrix(1.0238,0,0,0.9910,1023.62,640.71)"><text x="0" y="0" font-family="Liberation Sans, sans-serif" stroke="#000" stroke-width="0.35" font-size="30">10</text></g>
<g transform="matrix(1.0076,0,0,0.9874,406.71,640.41)"><text x="0" y="0" font-family="Liberation Sans, sans-serif" stroke="#000" stroke-width="0.35" font-size="30">15</text></g>
<g transform="matrix(1.0076,0,0,0.9874,1127.63,640.71)"><text x="0" y="0" font-family="Liberation Sans, sans-serif" stroke="#000" stroke-width="0.35" font-size="30">15</text></g>
<g transform="matrix(1.0308,0,0,0.9910,514.86,640.41)"><text x="0" y="0" font-family="Liberation Sans, sans-serif" stroke="#000" stroke-width="0.35" font-size="30">20</text></g>
<g transform="matrix(1.0308,0,0,0.9910,1231.35,640.71)"><text x="0" y="0" font-family="Liberation Sans, sans-serif" stroke="#000" stroke-width="0.35" font-size="30">20</text></g>
<g transform="matrix(1.0150,0,0,0.9910,623.28,640.41)"><text x="0" y="0" font-family="Liberation Sans, sans-serif" stroke="#000" stroke-width="0.35" font-size="30">25</text></g>
<g transform="matrix(1.0150,0,0,0.9910,1335.36,640.71)"><text x="0" y="0" font-family="Liberation Sans, sans-serif" stroke="#000" stroke-width="0.35" font-size="30">25</text></g>
<g transform="matrix(1.1967,0,0,1.1294,354.46,678.57)"><text x="0" y="0" font-family="Liberation Sans, sans-serif" stroke="#000" stroke-width="0.35" font-size="30"><tspan font-style="italic">t</tspan><tspan font-size="0.913em" dx="1.5" dy="-2.2">(</tspan><tspan font-style="italic" dx="2.5" dy="2.2">ps</tspan><tspan font-size="0.913em" dx="2" dy="-2.2">)</tspan></text></g>
<g transform="matrix(1.2033,0,0,1.1399,1075.96,678.70)"><text x="0" y="0" font-family="Liberation Sans, sans-serif" stroke="#000" stroke-width="0.35" font-size="30"><tspan font-style="italic">t</tspan><tspan font-size="0.913em" dx="1.5" dy="-2.2">(</tspan><tspan font-style="italic" dx="2.5" dy="2.2">ps</tspan><tspan font-size="0.913em" dx="2" dy="-2.2">)</tspan></text></g>
<g transform="matrix(1.0559,0,0,1.3322,29.34,370.93)"><text x="0" y="0" font-family="Liberation Sans, sans-serif" stroke="#000" stroke-width="0.35" font-size="30" transform="rotate(-90)"><tspan font-style="italic">L</tspan><tspan font-style="italic" font-size="0.7em" dy="6">d</tspan><tspan font-size="0.913em" dy="-8.2">(</tspan><tspan font-style="italic" dy="2.2">μm</tspan><tspan font-size="0.913em" dy="-2.2">)</tspan></text></g>
<g transform="matrix(1.1566,0,0,1.2941,740.68,362.07)"><text x="0" y="0" font-family="Liberation Sans, sans-serif" stroke="#000" stroke-width="0.35" font-size="30" transform="rotate(-90)"><tspan font-style="italic">A</tspan><tspan font-size="0.913em" dy="-2.2">(</tspan><tspan font-style="italic" dy="2.2">μm</tspan><tspan font-size="0.913em" dy="-2.2">)</tspan></text></g>
<g transform="matrix(1.0878,0,0,0.9923,110.97,59.93)"><text x="0" y="0" font-family="Liberation Sans, sans-serif" stroke="#000" stroke-width="0.35" font-size="30"><tspan font-size="0.913em" dy="-2.2">(</tspan><tspan dy="2.2">a</tspan><tspan font-size="0.913em" dy="-2.2">)</tspan></text></g>
<g transform="matrix(1.0784,0,0,0.9807,842.58,59.87)"><text x="0" y="0" font-family="Liberation Sans, sans-serif" stroke="#000" stroke-width="0.35" font-size="30"><tspan font-size="0.913em" dy="-2.2">(</tspan><tspan dy="2.2">b</tspan><tspan font-size="0.913em" dy="-2.2">)</tspan></text></g>
<g transform="matrix(1.2903,0,0,1.1143,166.45,130.38)"><text x="0" y="0" font-family="Liberation Sans, sans-serif" stroke="#000" stroke-width="0.35" font-size="30">I</text></g>
<g transform="matrix(1.1391,0,0,1.1286,330.44,130.37)"><text x="0" y="0" font-family="Liberation Sans, sans-serif" stroke="#000" stroke-width="0.35" font-size="30">II</text></g>
<g transform="matrix(1.1919,0,0,1.1429,536.00,130.67)"><text x="0" y="0" font-family="Liberation Sans, sans-serif" stroke="#000" stroke-width="0.35" font-size="30">III</text></g>
<g transform="matrix(1.2903,0,0,1.1667,876.55,130.67)"><text x="0" y="0" font-family="Liberation Sans, sans-serif" stroke="#000" stroke-width="0.35" font-size="30">I</text></g>
<g transform="matrix(1.1565,0,0,1.1571,1040.69,130.67)"><text x="0" y="0" font-family="Liberation Sans, sans-serif" stroke="#000" stroke-width="0.35" font-size="30">II</text></g>
<g transform="matrix(1.1717,0,0,1.1810,1246.15,130.96)"><text x="0" y="0" font-family="Liberation Sans, sans-serif" stroke="#000" stroke-width="0.35" font-size="30">III</text></g>
<g transform="matrix(0.9258,0,0,0.9722,202.65,298.51)"><text x="0" y="0" font-family="Liberation Sans, sans-serif" stroke="#000" stroke-width="0.35" font-size="30"><tspan font-style="italic">SM</tspan></text></g>
<g transform="matrix(0.9472,0,0,0.9667,203.23,340.11)"><text x="0" y="0" font-family="Liberation Sans, sans-serif" stroke="#000" stroke-width="0.35" font-size="30"><tspan font-style="italic">WM</tspan></text></g>
<g transform="matrix(0.9281,0,0,0.9306,936.65,278.03)"><text x="0" y="0" font-family="Liberation Sans, sans-serif" stroke="#000" stroke-width="0.35" font-size="30"><tspan font-style="italic">SM</tspan></text></g>
<g transform="matrix(0.9550,0,0,0.9810,936.31,319.60)"><text x="0" y="0" font-family="Liberation Sans, sans-serif" stroke="#000" stroke-width="0.35" font-size="30"><tspan font-style="italic">WM</tspan></text></g>
<g transform="matrix(1.0184,0,0,0.9554,937.39,361.32)"><text x="0" y="0" font-family="Liberation Sans, sans-serif" stroke="#000" stroke-width="0.35" font-size="30"><tspan font-style="italic">Fluid</tspan></text></g>
</g>
</svg>
</body></html>
